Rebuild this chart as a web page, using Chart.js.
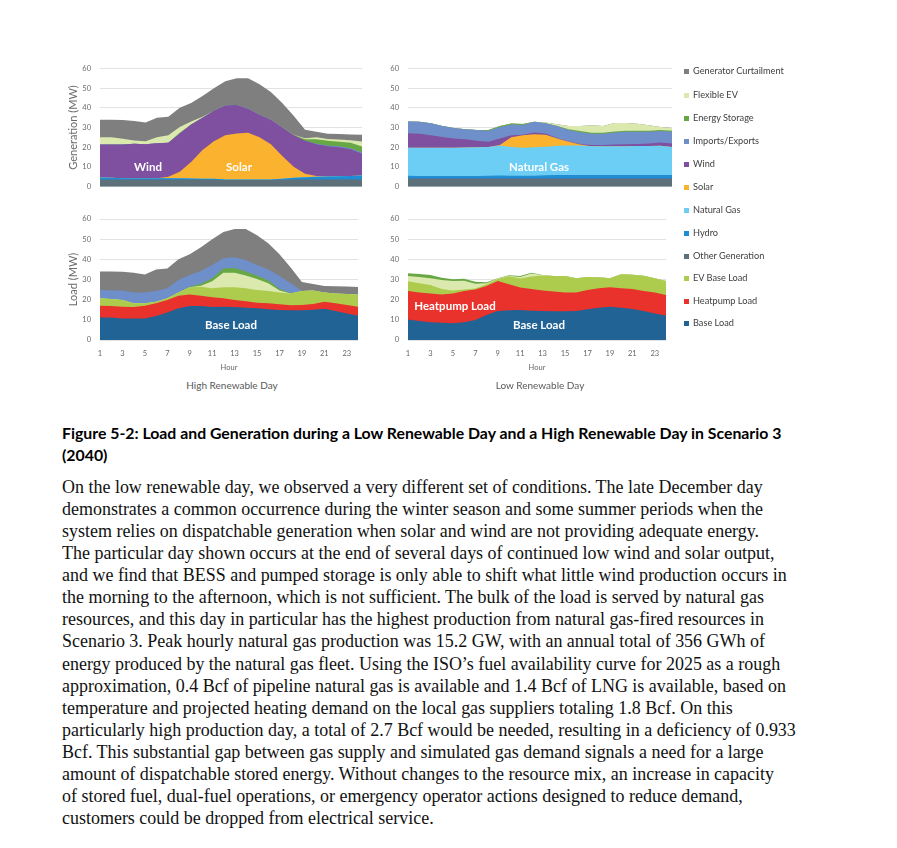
<!DOCTYPE html>
<html><head><meta charset="utf-8">
<script src="https://cdn.jsdelivr.net/npm/chart.js@4.4.1/dist/chart.umd.min.js"></script>
<style>
html,body{margin:0;padding:0;background:#fff;width:897px;height:848px;overflow:hidden;}
#page{position:relative;width:897px;height:848px;}
canvas{position:absolute;}
.lbl{position:absolute;color:#fff;font:bold 11.5px Lato,sans-serif;transform:translate(-50%,-50%);white-space:nowrap;}
.sub{position:absolute;color:#595959;font:10px Lato,sans-serif;transform:translate(-50%,-50%);white-space:nowrap;}
.leg{position:absolute;left:684px;height:12px;font:9.2px Lato,sans-serif;color:#404040;white-space:nowrap;line-height:12px;}
.leg i{position:absolute;left:0;top:3.5px;width:5px;height:5px;}
.leg span{position:absolute;left:9px;top:0;}
.cap{position:absolute;left:62px;font:bold 16px Lato,sans-serif;color:#000;white-space:nowrap;line-height:22px;}
.body{position:absolute;left:62px;font:16px "Liberation Serif",serif;color:#111;white-space:nowrap;line-height:22px;}
</style></head>
<body><div id="page">
<canvas id="c1" width="312" height="145" style="left:55px;top:55px;width:312px;height:145px"></canvas>
<canvas id="c2" width="312" height="145" style="left:363px;top:55px;width:312px;height:145px"></canvas>
<canvas id="c3" width="312" height="170" style="left:55px;top:205px;width:312px;height:170px"></canvas>
<canvas id="c4" width="312" height="170" style="left:363px;top:205px;width:312px;height:170px"></canvas>
</div>
<script>
// ---------- DATA ----------
const hours = [1,2,3,4,5,6,7,8,9,10,11,12,13,14,15,16,17,18,19,20,21,22,23,24];
const hourTicks = [1,3,5,7,9,11,13,15,17,19,21,23];
const yTicks = [0,10,20,30,40,50,60];

// High renewable day - generation (MW)
const hiOtherGen  = [3.6,3.6,3.6,3.6,3.6,3.6,3.6,3.6,3.5,3.5,3.4,3.3,3.3,3.3,3.3,3.3,3.4,3.5,3.5,3.6,3.6,3.6,3.6,3.6];
const hiHydro     = [1.0,0.8,0.6,0.6,0.6,0.6,0.6,0.6,0.6,0.5,0.5,0.3,0.3,0.3,0.3,0.3,0.6,0.9,1.2,1.4,1.5,1.6,1.8,2.0];
const hiNatGas    = [0,0,0,0,0,0,0,0,0,0,0,0,0,0,0,0,0,0,0,0,0,0,0,0];
const hiSolar     = [0,0,0,0,0,0,0.8,3.3,8.4,14.5,19.1,22.4,23.4,23.7,21.4,17.9,11.5,5.6,1.8,0.3,0,0,0,0];
const hiWind      = [16.7,16.9,17.1,17.5,17.3,17.8,17.3,19.5,19.0,16.5,15.5,15.2,14.5,12.2,11.5,12.5,14.5,16.0,16.8,16.2,15.4,14.8,13.6,11.2];
const hiImports   = [0,0,0,0,0,0,0,0,0,0,0,0,0,0,0,0,0,0,0,0.3,0.4,0.5,0.5,0.6];
const hiStorage   = [0,0,0,0,0,0,0,0.3,0,0,0,0,0,0,0,0,0,0.3,0.7,2.2,2.3,2.2,2.8,3.0];
const hiFlexEV    = [3.7,3.7,3.0,1.7,1.5,3.0,3.7,2.9,1.5,0.5,0,0,0,0,0,0,0,0,0.5,1.0,1.0,1.2,1.2,2.5];
const hiCurtail   = [9.0,9.0,9.5,9.9,9.5,10.0,9.5,9.8,9.5,10.5,11.5,12.3,13.5,15.5,15.5,14.0,12.5,9.7,4.3,2.8,2.6,2.8,3.0,3.4];

// High renewable day - load (MW)
const hiBaseLoad  = [11.2,11.1,10.7,10.6,10.7,11.9,13.6,15.7,16.9,16.9,16.4,16.5,16.4,16.0,15.7,15.2,14.9,14.7,14.7,15.0,15.5,14.4,13.1,12.1];
const hiHeatpump  = [5.8,5.8,5.8,5.8,6.3,6.3,6.2,6.3,5.7,5.1,4.8,4.2,3.4,3.2,2.8,3.0,2.8,2.5,2.7,2.9,3.5,3.8,4.3,4.4];
const hiEVBase    = [3.7,3.4,3.3,1.8,1.2,0.8,0.9,1.6,3.5,4.4,4.4,5.4,6.3,6.4,6.3,6.1,5.8,5.8,6.9,6.6,4.5,4.9,5.4,6.1];
const hiFlexLoad  = [0,0,0,0,0,0,0,0,0,0.5,3.5,7.3,7.3,6.4,5.4,3.8,1.0,0,0,0,0,0,0,0];
const hiStorLoad  = [0,0,0,0,0,0,0,0,0.3,1.0,1.5,2.0,2.3,2.0,1.7,1.5,0.8,0.3,0,0,0,0,0,0];
const hiExports   = [4.1,4.3,4.7,5.4,5.3,5.3,4.9,6.2,5.8,6.3,6.6,5.1,5.3,5.7,5.3,5.4,6.4,4.8,0,0,0,0,0,0];
const hiCurtLoad  = [9.2,9.4,9.3,9.7,9.0,10.7,9.9,10.2,10.3,11.8,12.8,13.0,14.0,15.3,14.8,13.0,10.8,7.9,4.5,3.3,3.3,3.6,3.7,3.7];

// Low renewable day - generation (MW)
const loOtherGen  = [4.1,4.1,4.1,4.1,4.1,4.1,4.1,4.1,4.1,4.1,4.1,4.1,4.1,4.1,4.1,4.1,4.1,4.1,4.1,4.1,4.1,4.1,4.1,4.1];
const loHydro     = [1.4,1.3,1.3,1.2,1.2,1.2,1.3,1.4,1.5,1.4,1.4,1.4,1.6,1.7,1.8,1.8,1.8,1.8,1.8,1.8,1.8,1.8,1.8,1.8];
const loNatGas    = [14.2,14.3,14.3,14.4,14.4,14.5,14.5,14.6,15.2,14.6,14.2,14.4,14.5,14.9,14.9,14.9,14.6,14.6,14.6,14.6,14.7,14.7,14.8,14.2];
const loSolar     = [0,0,0,0,0,0,0,0,0.3,5.0,6.3,6.7,6.1,3.7,1.9,0.5,0,0,0,0,0,0,0,0];
const loWind      = [7.4,7.1,6.3,5.5,4.7,4.2,3.3,2.6,3.3,0.9,0.3,0.8,0.6,0.2,0.2,0.3,0.6,0.6,0.8,1.0,1.0,1.3,1.7,1.8];
const loImports   = [6.0,6.1,6.1,5.5,5.4,5.1,5.5,5.7,5.8,5.5,5.0,5.5,5.2,6.1,5.8,6.0,5.7,5.7,6.1,6.4,6.3,6.0,5.8,6.0];
const loStorage   = [0,0,0,0,0,0,0,0.3,0.6,0.5,0.5,0,0,0,0.4,0.6,0.5,0.5,0.6,0.5,0.5,0.5,0.5,0.4];
const loFlexEV    = [0,0,0,0,0,0,0,0,0,0,0,0,0.4,1.0,1.6,2.5,3.8,3.4,4.3,3.9,3.5,2.8,1.5,1.5];
const loCurtail   = [0,0,0,0,0,0,0,0,0,0,0,0,0,0,0,0,0,0,0,0,0,0,0,0];

// Low renewable day - load (MW)
const loBaseLoad  = [10.2,9.4,8.8,8.6,8.3,8.8,9.9,12.4,14.4,14.7,14.9,14.5,14.4,14.2,14.2,14.4,15.2,16.0,16.5,16.0,15.4,14.4,13.2,12.1];
const loHeatpump  = [14.1,14.2,14.2,14.0,14.8,15.5,15.1,14.4,14.9,12.9,11.1,10.8,10.2,9.8,9.4,9.2,9.6,9.6,9.6,9.6,9.9,9.9,10.4,10.2];
const loEVBase    = [4.8,4.5,4.3,2.7,1.4,0.8,0.5,0.8,1.0,4.0,4.5,6.2,7.4,7.7,8.1,7.0,6.4,5.5,4.5,7.0,7.1,7.6,7.0,7.0];
const loFlexLoad  = [2.6,3.1,3.3,4.5,4.8,4.3,2.4,0.5,0.2,0.3,0.8,1.5,0.2,0,0,0,0,0,0,0,0,0,0,0];
const loStorLoad  = [1.4,1.5,1.6,1.1,0.8,1.0,1.0,0.5,0.1,0.2,0.4,0.4,0,0,0,0,0,0,0,0,0,0,0,0];

const legendNames = ['Generator Curtailment','Flexible EV','Energy Storage','Imports/Exports','Wind','Solar','Natural Gas','Hydro','Other Generation','EV Base Load','Heatpump Load','Base Load'];
// ---------- STYLE ----------
const COL = {
  'Generator Curtailment':'#7f7f7f','Flexible EV':'#dbe8ae','Energy Storage':'#67a845',
  'Imports/Exports':'#6f8fcb','Wind':'#8050a0','Solar':'#fbb22f','Natural Gas':'#6ccef4',
  'Hydro':'#1f8cd3','Other Generation':'#5e717b','EV Base Load':'#adcc4e',
  'Heatpump Load':'#e8322b','Base Load':'#216395'
};
const legendY = [71,95,118,141,164,187,210,233,256,278,301,323];

const page = document.getElementById('page');
legendNames.forEach((n,i)=>{
  const d=document.createElement('div');d.className='leg';d.style.top=(legendY[i]-6)+'px';
  d.innerHTML='<i style="background:'+COL[n]+'"></i><span>'+n+'</span>';page.appendChild(d);
});
function addText(cls,txt,x,y){const d=document.createElement('div');d.className=cls;d.textContent=txt;d.style.left=x+'px';d.style.top=y+'px';page.appendChild(d);return d;}

const FONT='Lato, sans-serif';
function ds(name,data){return {label:name,data:data,backgroundColor:COL[name],borderWidth:0,pointRadius:0,fill:'origin',tension:0};}

function makeChart(id,datasets,o){
  new Chart(document.getElementById(id),{
    type:'line',
    data:{labels:hours,datasets:datasets},
    options:{
      responsive:false,animation:false,devicePixelRatio:1,
      layout:{padding:{top:o.pt,right:o.pr,bottom:o.pb,left:0}},
      plugins:{legend:{display:false},tooltip:{enabled:false}},
      scales:{
        x:{display:o.showX,offset:false,grid:{display:false,drawTicks:false},border:{display:false},
           ticks:{autoSkip:false,maxRotation:0,padding:9,color:'#666',font:{family:FONT,size:7.5},
             callback:function(v,i){const h=hours[i];return hourTicks.includes(h)?String(h):'';}},
           title:{display:o.showX,text:'Hour',color:'#666',font:{family:FONT,size:7.5},padding:{top:0,bottom:3}},
           afterFit:function(s){if(o.showX)s.height=35;}},
        y:{stacked:true,min:0,max:60,afterBuildTicks:function(s){s.ticks=yTicks.map(v=>({value:v}));},
           grid:{color:'#e2e2e2',lineWidth:1,drawTicks:false},border:{display:false},
           ticks:{padding:9,color:'#6b6b6b',font:{family:FONT,size:7.5}},
           title:{display:!!o.yTitle,text:o.yTitle||'',color:'#6b6b6b',font:{family:FONT,size:11},padding:{top:12,bottom:0}},
           afterFit:function(s){s.width=45;}}
      }
    }
  });
}

makeChart('c1',[ds('Other Generation',hiOtherGen),ds('Hydro',hiHydro),ds('Natural Gas',hiNatGas),ds('Solar',hiSolar),ds('Wind',hiWind),ds('Imports/Exports',hiImports),ds('Energy Storage',hiStorage),ds('Flexible EV',hiFlexEV),ds('Generator Curtailment',hiCurtail)],
  {pt:11,pr:5,pb:6,showX:false,yTitle:'Generation (MW)'});
makeChart('c2',[ds('Other Generation',loOtherGen),ds('Hydro',loHydro),ds('Natural Gas',loNatGas),ds('Solar',loSolar),ds('Wind',loWind),ds('Imports/Exports',loImports),ds('Energy Storage',loStorage),ds('Flexible EV',loFlexEV),ds('Generator Curtailment',loCurtail)],
  {pt:11,pr:3,pb:6,showX:false});
makeChart('c3',[ds('Base Load',hiBaseLoad),ds('Heatpump Load',hiHeatpump),ds('EV Base Load',hiEVBase),ds('Flexible EV',hiFlexLoad),ds('Energy Storage',hiStorLoad),ds('Imports/Exports',hiExports),ds('Generator Curtailment',hiCurtLoad)],
  {pt:14,pr:3,pb:0,showX:true,yTitle:'Load (MW)'});
makeChart('c4',[ds('Base Load',loBaseLoad),ds('Heatpump Load',loHeatpump),ds('EV Base Load',loEVBase),ds('Flexible EV',loFlexLoad),ds('Energy Storage',loStorLoad)],
  {pt:14,pr:2,pb:0,showX:true});

// in-chart labels
addText('lbl','Wind',148,166);
addText('lbl','Solar',239,166);
addText('lbl','Natural Gas',539,166);
addText('lbl','Base Load',231,324);
addText('lbl','Heatpump Load',455,305);
addText('lbl','Base Load',539,324);
addText('sub','High Renewable Day',232,385);
addText('sub','Low Renewable Day',540,385);

// caption and body text
const cap1=addText('cap','Figure 5-2: Load and Generation during a Low Renewable Day and a High Renewable Day in Scenario 3',62,433-11);
const cap2=addText('cap','(2040)',62,455-11);
const bodyLines=[
"On the low renewable day, we observed a very different set of conditions. The late December day",
"demonstrates a common occurrence during the winter season and some summer periods when the",
"system relies on dispatchable generation when solar and wind are not providing adequate energy.",
"The particular day shown occurs at the end of several days of continued low wind and solar output,",
"and we find that BESS and pumped storage is only able to shift what little wind production occurs in",
"the morning to the afternoon, which is not sufficient. The bulk of the load is served by natural gas",
"resources, and this day in particular has the highest production from natural gas-fired resources in",
"Scenario 3. Peak hourly natural gas production was 15.2 GW, with an annual total of 356 GWh of",
"energy produced by the natural gas fleet. Using the ISO\u2019s fuel availability curve for 2025 as a rough",
"approximation, 0.4 Bcf of pipeline natural gas is available and 1.4 Bcf of LNG is available, based on",
"temperature and projected heating demand on the local gas suppliers totaling 1.8 Bcf. On this",
"particularly high production day, a total of 2.7 Bcf would be needed, resulting in a deficiency of 0.933",
"Bcf. This substantial gap between gas supply and simulated gas demand signals a need for a large",
"amount of dispatchable stored energy. Without changes to the resource mix, an increase in capacity",
"of stored fuel, dual-fuel operations, or emergency operator actions designed to reduce demand,",
"customers could be dropped from electrical service."];
const bodyEls=bodyLines.map((t,i)=>addText('body',t,62,Math.round(487+22.07*i)-11));
// size fonts to the reference line widths
const bfs=16*701/bodyEls[0].getBoundingClientRect().width;
bodyEls.forEach(e=>e.style.fontSize=bfs+'px');
const cfs=16*720/cap1.getBoundingClientRect().width;
cap1.style.fontSize=cfs+'px';cap2.style.fontSize=cfs+'px';
</script>
</body></html>
